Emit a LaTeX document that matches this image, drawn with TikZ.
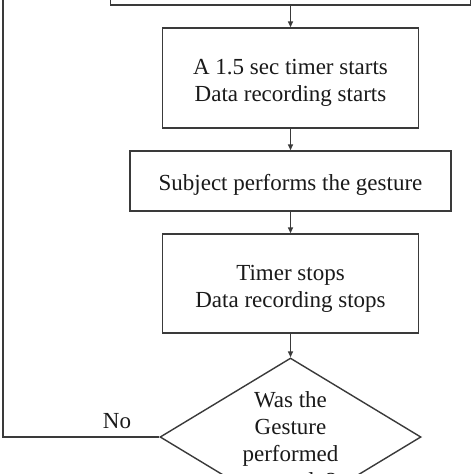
\documentclass[tikz,border=0pt]{standalone}
\usepackage{fontspec}
\setmainfont{Liberation Serif}
\usetikzlibrary{arrows.meta,shapes.geometric}
\definecolor{linec}{HTML}{3A3A3A}
\definecolor{textc}{HTML}{1A1A1A}
\begin{document}
\begin{tikzpicture}[x=1pt,y=-1pt,
  line/.style={draw=linec, line width=1.4pt},
  txt/.style={font=\fontsize{23}{27}\selectfont, text=textc, align=center, inner sep=0pt},
  box/.style={line, rectangle, inner sep=0pt},
  arr/.style={line, -{Triangle[length=6pt,width=5pt]}}]
\useasboundingbox (0,0) rectangle (474,474);
\fill[white] (0,0) rectangle (474,474);
\node[box, minimum width=360pt, minimum height=60pt] (top) at (290.5,-25) {};
\node[box, minimum width=256pt, minimum height=100pt] (b2) at (290.5,78) {};
\node[txt, yshift=-5pt] (b2t) at (b2.center) {A 1.5 sec timer starts\\Data recording starts};
\node[box, minimum width=321pt, minimum height=60pt] (b3) at (290.5,181) {};
\node[txt, yshift=-4pt] (b3t) at (b3.center) {Subject performs the gesture};
\node[box, minimum width=256pt, minimum height=99pt] (b4) at (290.5,283.5) {};
\node[txt, yshift=-5pt] (b4t) at (b4.center) {Timer stops\\Data recording stops};
\node[line, diamond, minimum width=261pt, minimum height=158pt, inner sep=0pt] (dia) at (290.5,437) {};
\node[txt, anchor=north] (diat) at (290.5,391) {Was the\\Gesture\\performed\\correctly?};
\node[txt] (no) at (117,421) {No};
\draw[arr] (top) -- (b2);
\draw[arr] (b2) -- (b3);
\draw[arr] (b3) -- (b4);
\draw[arr] (b4) -- (dia);
\coordinate (lc) at (3,437);
\coordinate (lt) at (3,-80);
\draw[line] (dia.west) -- (lc) -- (lt);
\end{tikzpicture}
\end{document}
